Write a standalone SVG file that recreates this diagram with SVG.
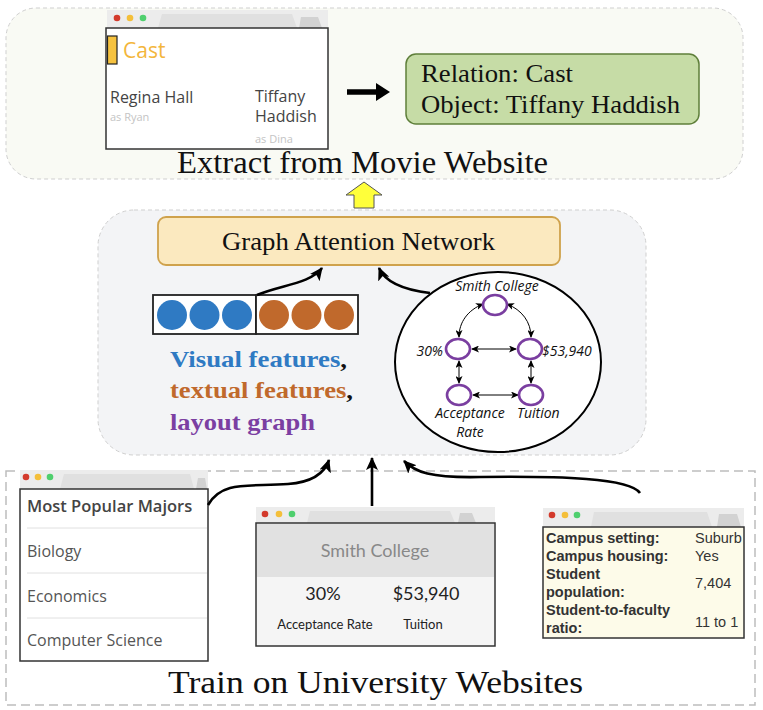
<svg xmlns="http://www.w3.org/2000/svg" width="763" height="710" viewBox="0 0 763 710">
<defs>
<marker id="ah" markerUnits="userSpaceOnUse" markerWidth="14" markerHeight="12" refX="12" refY="6" orient="auto" viewBox="0 0 14 12">
<path d="M0,0 L13,6 L0,12 L3,6 Z" fill="#000"/>
</marker>
<marker id="sa" markerUnits="userSpaceOnUse" markerWidth="8" markerHeight="7" refX="7" refY="3.5" orient="auto-start-reverse" viewBox="0 0 8 7">
<path d="M0,0 L8,3.5 L0,7 L2,3.5 Z" fill="#000"/>
</marker>
</defs>
<style>
.serif{font-family:"Liberation Serif","Times New Roman",serif;fill:#111}
.sans{font-family:"Open Sans","Noto Sans","Liberation Sans",sans-serif}
.hum{font-family:Lato,"Open Sans",sans-serif}
.ar{font-family:"Liberation Sans",Arial,sans-serif;font-size:14.5px;fill:#333}
.bar{fill:#ececec}
.tab{fill:#e0e0e0}
.tab2{fill:#d2d2d2}
.frame{fill:#fff;stroke:#333;stroke-width:1.5}
.gn{fill:#fff;stroke:#7a3ea0;stroke-width:2.6}
.ge{fill:none;stroke:#000;stroke-width:1;marker-start:url(#sa);marker-end:url(#sa)}
.conn{fill:none;stroke:#000;stroke-width:2.6;marker-end:url(#ah)}
.gl{font-family:"Open Sans","Noto Sans","Liberation Sans",sans-serif;font-style:italic;font-size:14px;fill:#111}
.blue{fill:#2f7ac3}
.orange{fill:#c0692c}
.purple{fill:#7b3fa2}
</style>

<!-- Panels -->
<g id="panel-extract">
<rect x="6" y="8" width="737" height="171" rx="30" fill="#f9faf4" stroke="#cfcfcf" stroke-width="1" stroke-dasharray="4,3"/>
<text class="serif" x="177" y="173" font-size="31" textLength="371" lengthAdjust="spacingAndGlyphs">Extract from Movie Website</text>
</g>
<g id="panel-gat">
<rect x="98" y="210" width="548" height="245" rx="36" fill="#f3f4f6" stroke="#cfcfcf" stroke-width="1" stroke-dasharray="4,3"/>
</g>
<g id="panel-train">
<rect x="6" y="471" width="749" height="234" fill="#fff" stroke="#bdbdbd" stroke-width="1.5" stroke-dasharray="9,5"/>
<text class="serif" x="168" y="693" font-size="31" textLength="415" lengthAdjust="spacingAndGlyphs">Train on University Websites</text>
</g>

<!-- Movie browser -->
<g id="movie-browser">
<rect class="bar" x="107" y="10" width="221" height="18"/>
<path class="tab" d="M158,28 L162,14 L292,14 L297,28 Z"/>
<path class="tab2" d="M299,28 L301,17 L318,17 L322,28 Z"/>
<circle cx="117" cy="18" r="3.3" fill="#d33a2c"/>
<circle cx="130" cy="18" r="3.3" fill="#f4bf3a"/>
<circle cx="143" cy="18" r="3.3" fill="#4fcf6e"/>
<rect class="frame" x="106" y="28" width="222" height="121"/>
<rect x="107.5" y="36" width="9.5" height="28" fill="#f6c23f" stroke="#222" stroke-width="1.2"/>
<text class="sans" x="123" y="58" font-size="21" fill="#f3b63c">Cast</text>
<text class="sans" x="110" y="103" font-size="16" fill="#444">Regina Hall</text>
<text class="sans" x="110" y="121" font-size="11" fill="#c4c4c4">as Ryan</text>
<text class="sans" x="255" y="102" font-size="16" fill="#444">Tiffany</text>
<text class="sans" x="255" y="122" font-size="16" fill="#444">Haddish</text>
<text class="sans" x="255" y="143" font-size="11" fill="#c4c4c4">as Dina</text>
</g>

<!-- Result box -->
<g id="result">
<rect x="406" y="54" width="293" height="70" rx="10" fill="#c6dca6" stroke="#5f7f3a" stroke-width="1.5"/>
<text class="serif" x="421" y="82" font-size="25" textLength="152" lengthAdjust="spacingAndGlyphs">Relation: Cast</text>
<text class="serif" x="421" y="113" font-size="25" textLength="259" lengthAdjust="spacingAndGlyphs">Object: Tiffany Haddish</text>
</g>

<!-- GAT box -->
<g id="gat">
<rect x="158" y="217" width="402" height="48" rx="8" fill="#fbe9bf" stroke="#cfa24c" stroke-width="1.8"/>
<text class="serif" x="222" y="250" font-size="25" textLength="273" lengthAdjust="spacingAndGlyphs">Graph Attention Network</text>
</g>

<!-- Features -->
<g id="features">
<rect x="153" y="295" width="103" height="39" fill="#fff" stroke="#222" stroke-width="1.8"/>
<rect x="256" y="295" width="102" height="39" fill="#fff" stroke="#222" stroke-width="1.8"/>
<circle class="blue" cx="172" cy="315" r="15"/>
<circle class="blue" cx="204.5" cy="315" r="15"/>
<circle class="blue" cx="237" cy="315" r="15"/>
<circle class="orange" cx="274" cy="315" r="15"/>
<circle class="orange" cx="306.5" cy="315" r="15"/>
<circle class="orange" cx="339" cy="315" r="15"/>
<text class="serif" x="170" y="367" font-size="24" font-weight="bold" textLength="177" lengthAdjust="spacingAndGlyphs"><tspan class="blue">Visual features</tspan>,</text>
<text class="serif" x="170" y="398" font-size="24" font-weight="bold" textLength="183" lengthAdjust="spacingAndGlyphs"><tspan class="orange">textual features</tspan>,</text>
<text class="serif" x="170" y="430" font-size="24" font-weight="bold" textLength="145" lengthAdjust="spacingAndGlyphs"><tspan class="purple">layout graph</tspan></text>
</g>

<!-- Layout graph -->
<g id="layout-graph">
<ellipse cx="498" cy="362" rx="103" ry="90" fill="#fff" stroke="#000" stroke-width="2"/>
<path class="ge" d="M483,304 C468,310 459,322 459,337"/>
<path class="ge" d="M507,304 C522,310 531,322 531,337"/>
<path class="ge" d="M472,349 L516,349"/>
<path class="ge" d="M459,361 L459,383"/>
<path class="ge" d="M531,361 L531,383"/>
<path class="ge" d="M473,395 L518,395"/>
<ellipse class="gn" cx="495" cy="305" rx="12" ry="10"/>
<ellipse class="gn" cx="458" cy="349" rx="12" ry="10"/>
<ellipse class="gn" cx="530" cy="349" rx="12" ry="10"/>
<ellipse class="gn" cx="459" cy="395" rx="12" ry="10"/>
<ellipse class="gn" cx="531" cy="395" rx="12" ry="10"/>
<text class="gl" x="497" y="291" text-anchor="middle">Smith College</text>
<text class="gl" x="443" y="356" text-anchor="end">30%</text>
<text class="gl" x="542" y="356">$53,940</text>
<text class="gl" x="470" y="418" text-anchor="middle">Acceptance</text>
<text class="gl" x="470" y="437" text-anchor="middle">Rate</text>
<text class="gl" x="517" y="418">Tuition</text>
</g>

<!-- Majors browser -->
<g id="majors-browser">
<rect class="bar" x="20" y="470" width="188" height="19"/>
<path class="tab" d="M60,489 L64,474 L190,474 L194,489 Z"/>
<path class="tab2" d="M196,489 L198,478 L205,478 L207,489 Z"/>
<circle cx="26" cy="477" r="3.3" fill="#d33a2c"/>
<circle cx="38" cy="477" r="3.3" fill="#f4bf3a"/>
<circle cx="50" cy="477" r="3.3" fill="#4fcf6e"/>
<rect class="frame" x="20" y="489" width="188" height="172"/>
<text class="sans" x="27" y="512" font-size="16.5" font-weight="600" fill="#444">Most Popular Majors</text>
<line x1="27" y1="528" x2="207" y2="528" stroke="#e0e0e0" stroke-width="1"/>
<line x1="27" y1="573" x2="207" y2="573" stroke="#e0e0e0" stroke-width="1"/>
<line x1="27" y1="618" x2="207" y2="618" stroke="#e0e0e0" stroke-width="1"/>
<text class="sans" x="27" y="557" font-size="16" fill="#555">Biology</text>
<text class="sans" x="27" y="602" font-size="16" fill="#555">Economics</text>
<text class="sans" x="27" y="646" font-size="16" fill="#555">Computer Science</text>
</g>

<!-- Smith browser -->
<g id="smith-browser">
<rect class="bar" x="256" y="507" width="239" height="16"/>
<path class="tab" d="M307,523 L310,511 L450,511 L455,523 Z"/>
<path class="tab2" d="M458,523 L460,513 L472,513 L476,523 Z"/>
<circle cx="265" cy="514" r="3.3" fill="#d33a2c"/>
<circle cx="279" cy="514" r="3.3" fill="#f4bf3a"/>
<circle cx="292" cy="514" r="3.3" fill="#4fcf6e"/>
<rect x="256" y="523" width="239" height="123" fill="#f5f5f5" stroke="#333" stroke-width="1.5"/>
<rect x="257" y="524" width="237" height="53" fill="#e1e1e1"/>
<text class="hum" x="375" y="557" font-size="18" fill="#888" text-anchor="middle">Smith College</text>
<text class="hum" x="323" y="600" font-size="18" fill="#222" text-anchor="middle">30%</text>
<text class="hum" x="426" y="600" font-size="18" fill="#222" text-anchor="middle">$53,940</text>
<text class="hum" x="325" y="629" font-size="13" fill="#222" text-anchor="middle">Acceptance Rate</text>
<text class="hum" x="423" y="629" font-size="13" fill="#222" text-anchor="middle">Tuition</text>
</g>

<!-- Campus browser -->
<g id="campus-browser">
<rect class="bar" x="543" y="508" width="201" height="19"/>
<path class="tab" d="M591,527 L594,512 L707,512 L712,527 Z"/>
<path class="tab2" d="M717,527 L719,514 L737,514 L741,527 Z"/>
<circle cx="552" cy="515" r="3.3" fill="#d33a2c"/>
<circle cx="565" cy="515" r="3.3" fill="#f4bf3a"/>
<circle cx="577" cy="515" r="3.3" fill="#4fcf6e"/>
<rect x="543" y="527" width="201" height="111" fill="#fdfbe9" stroke="#333" stroke-width="1.5"/>
<text class="ar" x="546" y="543" font-weight="bold">Campus setting:</text>
<text class="ar" x="546" y="561" font-weight="bold">Campus housing:</text>
<text class="ar" x="546" y="579" font-weight="bold">Student</text>
<text class="ar" x="546" y="597" font-weight="bold">population:</text>
<text class="ar" x="546" y="615" font-weight="bold">Student-to-faculty</text>
<text class="ar" x="546" y="633" font-weight="bold">ratio:</text>
<text class="ar" x="695" y="543">Suburb</text>
<text class="ar" x="695" y="561">Yes</text>
<text class="ar" x="695" y="588">7,404</text>
<text class="ar" x="695" y="627">11 to 1</text>
</g>

<!-- Connectors -->
<g id="connectors">
<path d="M347,92 L378,92" stroke="#000" stroke-width="5.5" fill="none"/>
<path d="M376,83 L390,92 L376,101 Z" fill="#000"/>
<path d="M354,208 L354,195 L346,195 L364,182 L382,195 L374,195 L374,208 Z" fill="#ffff3a" stroke="#555" stroke-width="1"/>
<path class="conn" d="M257,295 C280,285 310,284 322,268"/>
<path class="conn" d="M430,293 C405,290 385,282 379,268"/>
<path class="conn" d="M208,505 C222,480 250,487 288,484 C315,482 325,472 329,460"/>
<path class="conn" d="M372,506 L372,458"/>
<path class="conn" d="M640,493 C630,478 560,476 480,477 C430,478 415,472 404,461"/>
</g>
</svg>
